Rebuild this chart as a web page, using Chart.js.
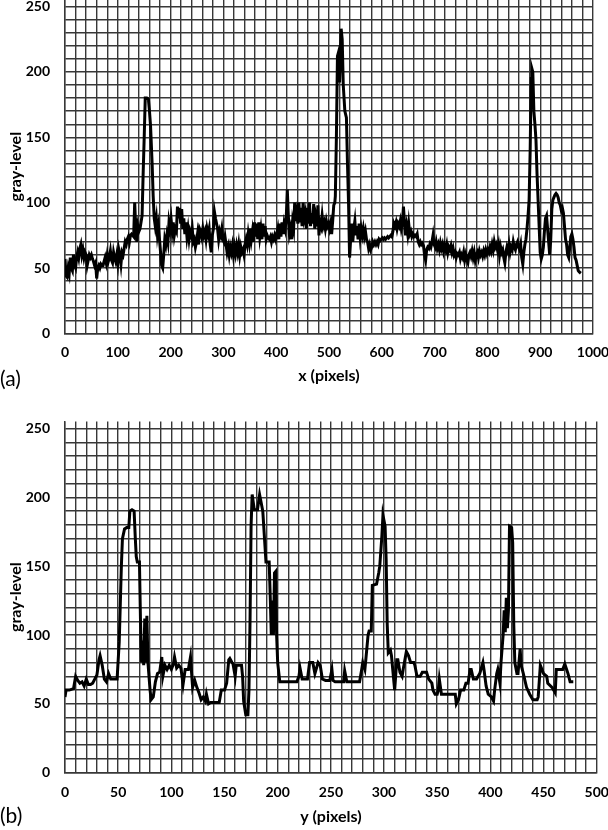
<!DOCTYPE html>
<html>
<head>
<meta charset="utf-8">
<script src="https://cdn.jsdelivr.net/npm/chart.js@4.4.1/dist/chart.umd.min.js"></script>
<style>
  body { margin: 0; width: 608px; height: 830px; background: #fff; position: relative; overflow: hidden; }
  .box { position: absolute; left: 0; width: 608px; }
  .tag { position: absolute; left: 0; font-family: Lato, sans-serif; font-size: 21px; color: #000; line-height: 24px; }
</style>
</head>
<body>
<div class="box" style="top:0; height:395px;"><canvas id="chartX"></canvas></div>
<div class="box" style="top:415px; height:415px;"><canvas id="chartY"></canvas></div>
<div class="tag" style="top:366px;">(a)</div>
<div class="tag" style="top:803px;">(b)</div>
<script>
// (a) profile along x
const topX = [0,2,4,6,8,10,12,14,16,18,20,22,24,26,28,30,32,34,36,38,40,42,44,46,48,50,52,54,56,58,60,62,64,66,68,70,72,74,76,78,80,82,84,86,88,90,92,94,96,98,
  100,102,104,106,108,110,112,114,116,118,120,122,124,126,128,130,132,134,136,138,140,142,144,146,148,150,152,155,158,160,162,165,167,169,171,173,175,177,179,181,183,185,187,189,191,193,195,197,199,
  201,203,205,207,209,211,213,215,217,219,221,223,225,227,229,231,233,235,237,239,241,243,245,247,249,251,253,255,257,259,261,263,265,267,269,271,273,275,277,279,281,283,285,287,289,291,293,295,297,299,
  301,303,305,307,309,311,313,315,317,319,321,323,325,327,329,331,333,335,337,339,341,343,345,347,349,351,353,355,357,359,361,363,365,367,369,371,373,375,377,379,381,383,385,387,389,391,393,395,397,399,
  401,403,405,407,409,411,413,415,417,419,421,423,425,427,429,431,433,435,437,439,441,443,445,447,449,451,453,455,457,459,461,463,465,467,469,471,473,475,477,479,481,483,485,487,489,491,493,495,497,499,
  501,503,505,507,509,511,512,514,516,518,520,522,523,525,527,530,533,535,537,539,541,543,545,547,549,551,553,555,557,559,561,563,565,567,569,571,573,575,577,579,581,583,585,587,589,591,593,595,597,599,
  601,603,605,607,609,611,613,615,617,619,621,623,625,627,629,631,633,635,637,639,641,643,645,647,649,651,653,655,657,659,661,663,665,667,669,671,673,675,677,679,681,683,685,687,689,691,693,695,697,699,
  701,703,705,707,709,711,713,715,717,719,721,723,725,727,729,731,733,735,737,739,741,743,745,747,749,751,753,755,757,759,761,763,765,767,769,771,773,775,777,779,781,783,785,787,789,791,793,795,797,799,
  801,803,805,807,809,811,813,815,817,819,821,823,825,827,829,831,833,835,837,839,841,843,845,847,849,851,853,855,857,859,861,863,865,867,869,871,873,875,877,879,881,883,884,886,888,890,892,894,896,898,
  900,902,904,906,908,910,912,914,916,918,920,922,924,926,928,930,932,934,936,938,940,942,944,946,948,950,952,954,956,958,960,962,964,966,968,970,972,974,977];
const topY = [57,44,43,50,46,58,50,48,60,52,50,58,62,58,65,68,60,64,58,62,60,52,56,60,58,60,57,55,52,54,42,50,52,50,53,52,52,55,58,54,60,55,58,63,56,54,62,58,55,60,
  54,64,60,53,62,60,65,70,68,72,74,70,75,76,75,74,100,80,70,82,78,80,85,90,122,150,180,180,179,170,159,130,105,88,82,88,76,82,72,62,52,50,60,72,68,75,70,85,80,
  87,78,85,75,80,78,97,88,96,84,95,80,88,76,85,74,80,72,78,75,80,70,72,66,70,76,68,80,78,74,80,75,78,72,80,76,80,68,62,75,80,93,88,84,80,72,78,75,80,72,
  70,74,68,62,66,60,66,62,67,60,66,61,67,62,68,60,66,62,64,60,68,72,68,76,70,80,72,78,70,85,74,84,72,85,74,80,72,84,74,82,72,75,73,72,74,70,74,72,75,72,
  76,80,72,84,74,85,76,84,80,88,110,90,76,80,72,85,80,100,86,92,84,100,85,96,82,100,88,92,80,96,84,100,82,92,84,99,80,88,82,98,75,85,82,90,82,85,80,86,82,84,
  80,84,76,86,98,100,105,150,212,215,192,220,233,225,190,170,165,130,100,58,72,84,70,80,86,75,82,72,84,74,80,75,80,74,78,72,70,65,68,64,66,70,68,70,68,70,68,72,71,72,
  73,72,73,72,73,74,73,74,75,74,78,84,82,85,80,84,82,86,80,84,97,85,75,82,76,84,76,78,74,76,74,75,74,76,70,68,70,68,69,67,60,56,64,66,65,68,66,70,75,68,
  66,70,65,68,64,69,65,68,63,67,64,68,62,66,64,67,62,65,60,62,58,61,60,62,57,60,58,62,56,60,56,54,60,62,59,63,58,62,56,60,62,58,63,60,62,59,63,60,64,61,
  64,62,66,63,68,64,70,66,68,64,68,60,66,62,64,58,54,62,66,63,68,62,66,64,70,66,64,68,70,66,64,68,58,53,62,68,72,80,90,102,140,195,203,200,170,160,148,122,102,82,
  62,57,60,66,78,88,90,80,70,60,72,95,102,104,106,107,106,104,100,98,94,96,92,82,72,68,60,58,66,74,76,72,66,58,56,52,48,47,46];

// (b) profile along y
const botX = [0,1,4,8,10,12,14,16,18,20,22,24,26,28,30,32,33,35,37,39,41,43,46,49,51,53,54,56,58,60,61,63,65,66,67,68,70,71,72,73,74,75,76,77,78,80,81,83,85,87,
  89,91,92,94,96,98,100,102,103,105,107,109,111,113,116,118,120,122,124,126,128,130,132,133,135,137,145,147,150,152,154,155,157,158,160,161,166,167,168,170,172,173,174,175,176,178,181,183,186,189,
  192,193,194,195,196,197,198,199,200,202,210,216,218,220,221,223,228,230,233,235,238,240,242,245,249,251,252,254,262,263,265,277,279,280,282,283,285,286,288,289,293,295,296,298,299,301,302,303,304,306,
  307,310,312,313,315,317,318,321,323,325,328,329,331,334,336,340,342,345,346,348,350,351,352,354,367,368,370,372,375,377,379,381,382,384,387,390,393,394,396,398,401,403,404,406,407,409,410,412,413,414,
  415,416,417,418,420,421,422,423,425,426,428,429,431,434,437,440,444,445,447,450,453,454,458,461,462,464,468,470,473,475,478];
const botY = [55,60,60,61,70,67,65,66,63,68,64,64,65,68,71,82,85,78,68,66,72,68,68,68,95,150,170,177,178,178,190,191,190,172,157,153,153,110,80,96,78,112,80,114,80,60,53,55,66,72,
  73,84,70,78,75,78,75,79,84,76,78,76,64,75,75,84,62,67,62,58,53,55,52,57,50,51,51,60,60,65,82,83,80,79,70,78,78,70,52,42,42,60,110,180,202,191,191,202,190,153,
  153,128,100,125,100,145,146,100,80,66,66,66,66,70,76,68,68,80,80,72,80,78,68,67,67,75,67,66,66,74,66,66,75,80,75,83,100,103,103,136,137,145,150,172,187,179,155,108,87,89,
  85,60,82,82,73,70,75,88,85,80,80,78,70,70,73,73,68,65,60,57,57,60,68,57,57,50,53,60,60,65,65,75,75,68,68,72,80,75,63,57,55,52,60,72,75,65,80,100,118,102,
  127,105,118,179,178,167,108,80,72,72,90,78,72,62,57,53,53,55,78,72,70,65,62,58,75,75,75,79,72,66,66];

// grid steps and labelled ticks
const yGridStep = 10, yLabelStep = 50, yTop = 250;
const topGridStep = 20, topLabelStep = 100;
const botGridStep = 10, botLabelStep = 50;

Chart.defaults.font.family = 'Lato, sans-serif';
Chart.defaults.color = '#000';

function pairs(xs, ys) {
  return xs.map((x, i) => ({x: x, y: ys[i]}));
}

function stepTicks(max, step) {
  const out = [];
  for (let v = 0; v <= max + 1e-9; v += step) out.push({value: v});
  return out;
}

function makeChart(canvas, xs, ys, xMax, xStep, xLabel, xTitle, axisH, pad, tickPad, titlePad) {
  return new Chart(canvas.getContext('2d'), {
    type: 'line',
    data: {
      datasets: [{
        data: pairs(xs, ys),
        borderColor: '#000',
        borderWidth: 3,
        pointRadius: 0,
        tension: 0,
        fill: false
      }]
    },
    options: {
      responsive: true,
      maintainAspectRatio: false,
      animation: false,
      devicePixelRatio: 1,
      layout: {padding: pad},
      plugins: {legend: {display: false}, tooltip: {enabled: false}},
      scales: {
        x: {
          type: 'linear',
          min: 0,
          max: xMax,
          grid: {color: '#383838', lineWidth: 1.4, drawTicks: false},
          border: {color: '#383838', width: 1.4},
          ticks: {
            autoSkip: false,
            maxRotation: 0,
            padding: tickPad,
            font: {size: 14, weight: 'bold'},
            callback: (v) => v % xLabel === 0 ? v : ''
          },
          afterBuildTicks: (s) => { s.ticks = stepTicks(xMax, xStep); },
          title: {display: true, text: xTitle, font: {size: 16, weight: 'bold'}, padding: {top: 0, bottom: titlePad}},
          afterFit: (s) => { s.height = axisH; s.paddingLeft = 0; s.paddingRight = 0; }
        },
        y: {
          min: 0,
          max: 255,
          grid: {color: '#383838', lineWidth: 1.4, drawTicks: false},
          border: {color: '#383838', width: 1.4},
          ticks: {
            autoSkip: false,
            padding: 15,
            font: {size: 14, weight: 'bold'},
            callback: (v) => v % yLabelStep === 0 ? v : ''
          },
          afterBuildTicks: (s) => { s.ticks = stepTicks(yTop, yGridStep); },
          title: {display: true, text: 'gray-level', font: {size: 16, weight: 'bold'}, padding: {top: 6, bottom: 0}},
          afterFit: (s) => { s.width = 65; s.paddingTop = 0; s.paddingBottom = 0; }
        }
      }
    }
  });
}

makeChart(document.getElementById('chartX'), topX, topY, 1000, topGridStep, topLabelStep, 'x (pixels)', 61.6,
  {top: 0, right: 15, bottom: 0, left: 0}, 10.4, 10);
makeChart(document.getElementById('chartY'), botX, botY, 500, botGridStep, botLabelStep, 'y (pixels)', 57.3,
  {top: 6.6, right: 11.3, bottom: 0, left: 0}, 11, 4);
</script>
</body>
</html>
